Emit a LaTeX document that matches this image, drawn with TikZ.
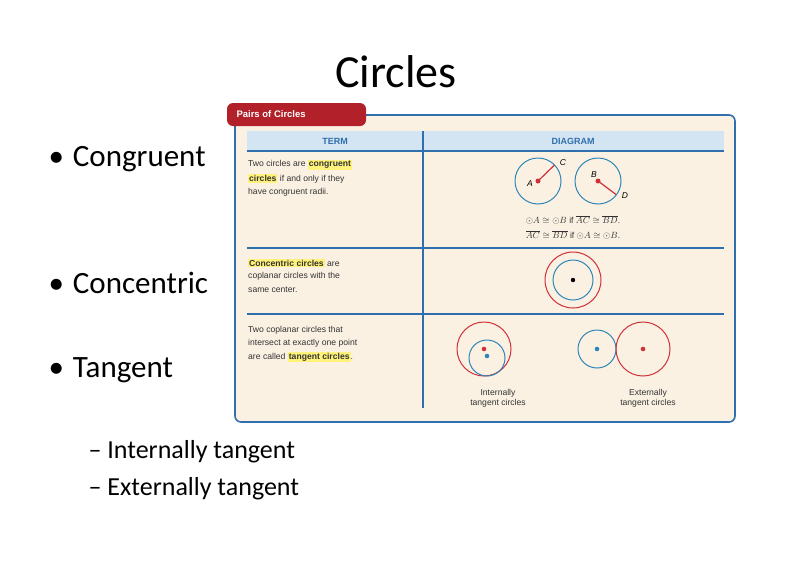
\documentclass[tikz,border=0pt]{standalone}
\usepackage{fontspec}
\setmainfont{Carlito}
\newfontfamily\pf{Liberation Sans}
\usepackage{amssymb}
\definecolor{pblue}{HTML}{2F6FAE}
\definecolor{cblue}{HTML}{2E86B8}
\definecolor{cred}{HTML}{D0303A}
\definecolor{beige}{HTML}{FBF1E3}
\definecolor{hband}{HTML}{D3E4F2}
\definecolor{hyel}{HTML}{FFF27A}
\definecolor{tabred}{HTML}{B2202A}
\newcommand{\hl}[1]{{\setlength\fboxsep{1pt}\colorbox{hyel}{\bfseries #1}}}
\tikzset{
  slide/.style={anchor=base west,font=\fontsize{31}{34}\selectfont},
  sub/.style={anchor=base west,font=\fontsize{26}{30}\selectfont},
  term/.style={anchor=west,font=\pf\fontsize{8.6}{10}\selectfont,inner sep=0pt,text=black!80},
  captext/.style={anchor=center,font=\pf\fontsize{8.6}{10}\selectfont,inner sep=0pt,text=black!80,align=center},
  bc/.style={draw=cblue,line width=1pt},
  rc/.style={draw=cred,line width=1pt},
  dotb/.style={fill=cblue},
  dotr/.style={fill=cred}
}
\begin{document}
\begin{tikzpicture}[x=1pt,y=-1pt]
\useasboundingbox (0,0) rectangle (792,576);
\node[font=\fontsize{46}{50}\selectfont] (title) at (396,72) {Circles};
\node[slide] (b1) at (45,166) {•\hspace{9pt}Congruent};
\node[slide] (b2) at (45,293) {•\hspace{9pt}Concentric};
\node[slide] (b3) at (45,377) {•\hspace{9pt}Tangent};
\node[sub] (s1) at (85,458) {– Internally tangent};
\node[sub] (s2) at (85,495) {– Externally tangent};
% panel
\draw[pblue,line width=1.6pt,fill=beige,rounded corners=6pt] (235,115) rectangle (735,422);
\fill[hband] (247,131) rectangle (724,151);
\draw[pblue,line width=1.6pt] (247,151) -- (724,151);
\draw[pblue,line width=1.3pt] (423,131) -- (423,408);
\draw[pblue,line width=1.3pt] (247,248) -- (724,248);
\draw[pblue,line width=1.3pt] (247,314) -- (724,314);
\fill[tabred,rounded corners=6pt] (227,103) rectangle (366,126);
\node[font=\pf\bfseries\fontsize{9.5}{11}\selectfont,text=white,anchor=west] (tab) at (233,114.5) {Pairs of Circles};
\node[font=\pf\bfseries\fontsize{9}{11}\selectfont,text=pblue] (th1) at (335,141) {TERM};
\node[font=\pf\bfseries\fontsize{9}{11}\selectfont,text=pblue] (th2) at (573,141) {DIAGRAM};
% row 1
\node[term] (t11) at (248,165) {Two circles are \hl{congruent}};
\node[term] (t12) at (248,179) {\hl{circles} if and only if they};
\node[term] (t13) at (248,192) {have congruent radii.};
\draw[bc] (538,181) circle (23);
\draw[bc] (598,181) circle (23);
\draw[cred,line width=1.2pt] (538,181) -- (554.5,165);
\draw[cred,line width=1.2pt] (598,181) -- (616,194.5);
\fill[dotr] (538,181) circle (2.5);
\fill[dotr] (598,181) circle (2.5);
\node[font=\pf\itshape\fontsize{8.5}{10}\selectfont] (lc) at (563,163) {C};
\node[font=\pf\itshape\fontsize{8.5}{10}\selectfont] (la) at (530,184) {A};
\node[font=\pf\itshape\fontsize{8.5}{10}\selectfont] (lb) at (594,175) {B};
\node[font=\pf\itshape\fontsize{8.5}{10}\selectfont] (ld) at (625,196) {D};
\node[captext] (eq1) at (573,220) {$\odot A\cong\odot B$ if $\overline{AC}\cong\overline{BD}$.};
\node[captext] (eq2) at (573,235) {$\overline{AC}\cong\overline{BD}$ if $\odot A\cong\odot B$.};
% row 2
\node[term] (t21) at (248,263) {\hl{Concentric circles} are};
\node[term] (t22) at (248,276) {coplanar circles with the};
\node[term] (t23) at (248,290) {same center.};
\draw[rc] (573,280) circle (28);
\draw[bc] (573,280) circle (20);
\fill (573,280) circle (2.2);
% row 3
\node[term] (t31) at (248,330) {Two coplanar circles that};
\node[term] (t32) at (248,343) {intersect at exactly one point};
\node[term] (t33) at (248,357) {are called \hl{tangent circles}.};
\draw[rc] (484,349) circle (27);
\draw[bc] (487,358) circle (18);
\fill[dotr] (484,349) circle (2.3);
\fill[dotb] (487,356) circle (2.3);
\draw[bc] (597,349) circle (19);
\draw[rc] (643,349) circle (27);
\fill[dotb] (597,349) circle (2.3);
\fill[dotr] (643,349) circle (2.3);
\node[captext] (c1) at (498,398) {Internally\\tangent circles};
\node[captext] (c2) at (648,398) {Externally\\tangent circles};
\end{tikzpicture}
\end{document}
